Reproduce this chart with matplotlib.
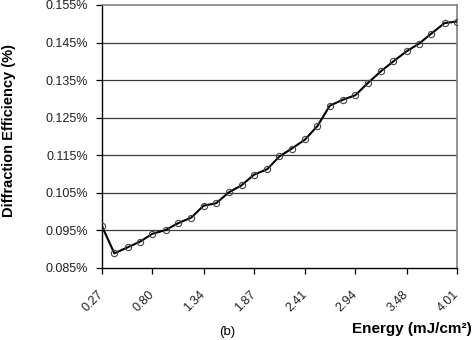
import matplotlib.pyplot as plt
import numpy as np

plt.rcParams['font.family'] = ['Liberation Sans', 'DejaVu Sans']

# energy density (mJ/cm^2) and measured diffraction efficiency (%)
energy = [0.27, 0.40, 0.54, 0.67, 0.80, 0.94, 1.07, 1.21, 1.34, 1.47,
          1.61, 1.74, 1.87, 2.01, 2.14, 2.27, 2.41, 2.54, 2.67, 2.81,
          2.94, 3.07, 3.21, 3.34, 3.48, 3.61, 3.74, 3.88, 4.01]
efficiency = [0.0961, 0.0889, 0.0905, 0.0920, 0.0941, 0.0951, 0.0969, 0.0984,
              0.1016, 0.1022, 0.1052, 0.1070, 0.1098, 0.1113, 0.1147, 0.1168,
              0.1192, 0.1228, 0.1282, 0.1298, 0.1310, 0.1342, 0.1374, 0.1400,
              0.1427, 0.1447, 0.1474, 0.1502, 0.1506]

y_ticks = [0.085, 0.095, 0.105, 0.115, 0.125, 0.135, 0.145, 0.155]
x_tick_labels = ['0.27', '0.80', '1.34', '1.87', '2.41', '2.94', '3.48', '4.01']

fig = plt.figure(figsize=(4.74, 3.40), dpi=100)
ax = fig.add_axes([0.2152, 0.2118, 0.7489, 0.7735])

# horizontal gridlines
for yv in y_ticks[1:-1]:
    ax.axhline(yv, color='#3a3a3a', lw=0.9, zorder=1)

ax.plot(energy, efficiency, color='black', lw=1.5, zorder=3,
        marker='o', markersize=4.5, markerfacecolor='none',
        markeredgecolor='#444444', markeredgewidth=0.8)

ax.set_xlim(energy[0], energy[-1])
ax.set_ylim(y_ticks[0], y_ticks[-1])

ax.set_yticks(y_ticks)
ax.set_yticklabels(['%.3f%%' % v for v in y_ticks], fontsize=9, color='#222222')
ax.set_xticks(energy[::4])
ax.set_xticklabels(x_tick_labels, fontsize=9, color='#222222', rotation=45,
                   ha='right', va='center', rotation_mode='anchor')

ax.tick_params(axis='y', direction='out', length=4, width=0.9, pad=6)
ax.tick_params(axis='x', direction='out', length=4, width=0.9, pad=14)

for side in ['left', 'bottom']:
    ax.spines[side].set_color('black')
    ax.spines[side].set_linewidth(1.0)
for side in ['top', 'right']:
    ax.spines[side].set_color('#808080')
    ax.spines[side].set_linewidth(1.2)

fig.text(0.018, 0.615, 'Diffraction Efficiency (%)', rotation=90, fontsize=10.5,
         fontweight='bold', ha='center', va='center')
fig.text(0.996, 0.032, 'Energy (mJ/cm²)', fontsize=11, fontweight='bold',
         ha='right', va='center')
fig.text(0.479, 0.024, '(b)', fontsize=9.5, ha='center', va='center')

fig.savefig('out.png', dpi=100)
